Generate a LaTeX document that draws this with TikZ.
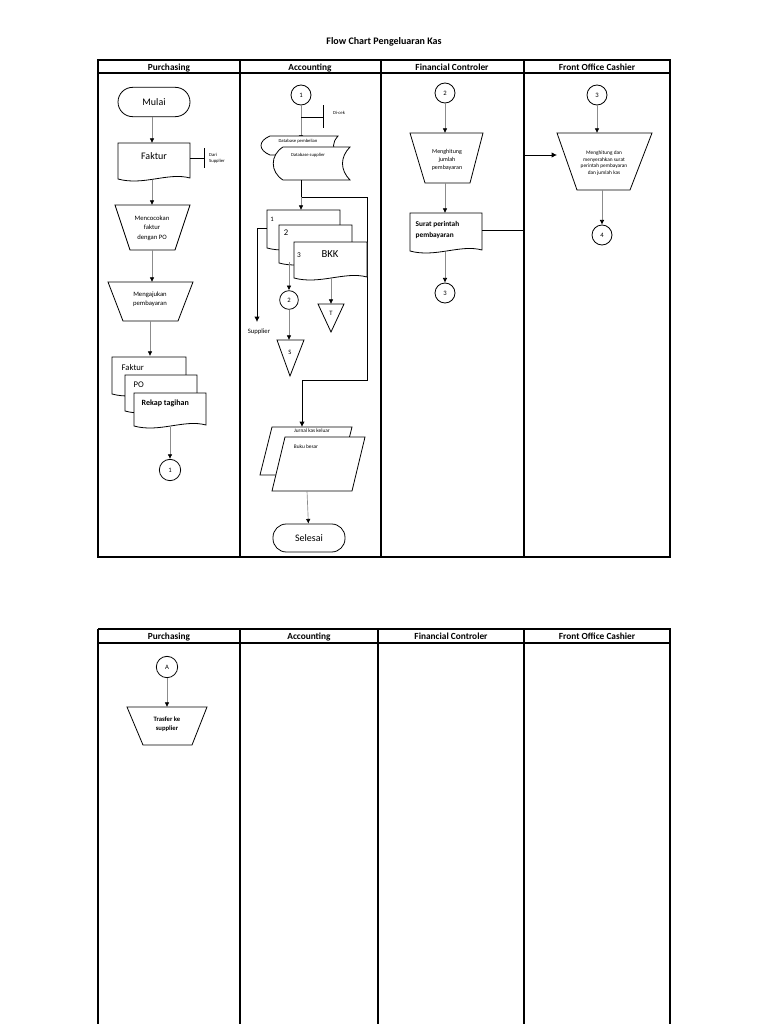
\documentclass[tikz,border=0pt]{standalone}
\usepackage{fontspec}
\setmainfont{Carlito}
\begin{document}
\begin{tikzpicture}[x=0.75pt,y=-0.75pt,
  ln/.style={draw=black!45,line width=0.5pt},
  ar/.style={ln,-{Latex[length=3.5pt,width=3.5pt,color=black]},draw=black!45},
  bl/.style={draw=black,line width=0.6pt},
  bar/.style={-{Latex[length=4pt,width=4pt]},draw=black,line width=0.6pt},
  sh/.style={draw=black,line width=0.6pt,fill=white},
  hd/.style={font=\bfseries\fontsize{7}{8}\selectfont,anchor=base},
  tiny/.style={font=\fontsize{3.5}{4.5}\selectfont,align=center},
  sm/.style={font=\fontsize{5}{7}\selectfont,align=center},
  con/.style={circle,draw,line width=0.6pt,minimum size=16pt,inner sep=0pt,font=\fontsize{5}{6}\selectfont}]
\usetikzlibrary{arrows.meta}
\useasboundingbox (0,0) rectangle (768,1024);
\newcommand\docsh[4]{\draw[sh] (#1,#2) -- (#3,#2) -- (#3,#4) .. controls ({#3-0.3*(#3-#1)},{#4-6}) and ({#1+0.35*(#3-#1)},{#4+8}) .. (#1,{#4+1}) -- cycle;}
\newcommand\trap[7]{\draw[sh] (#1,#3) -- (#2,#3) -- (#5,#6) -- (#4,#6) -- cycle;}
\node[font=\bfseries\fontsize{7.5}{9}\selectfont] (title) at (384,42) {Flow Chart Pengeluaran Kas};
% table 1
\draw[line width=0.8pt] (98,60) rectangle (670,557);
\draw[line width=0.8pt] (98,73) -- (670,73);
\foreach \x in {240,381,524} \draw[line width=0.8pt] (\x,60) -- (\x,557);
\node[hd] (h1) at (169,70) {Purchasing};
\node[hd] (h2) at (310,70) {Accounting};
\node[hd] (h3) at (452,70) {Financial Controler};
\node[hd] (h4) at (597,70) {Front Office Cashier};
% table 2
\draw[line width=0.8pt] (98,629) -- (670,629) -- (670,1024) (98,1024) -- (98,629);
\draw[line width=0.8pt] (98,643) -- (670,643);
\foreach \x in {240,378,524} \draw[line width=0.8pt] (\x,629) -- (\x,1024);
\node[hd] (k1) at (169,639.5) {Purchasing};
\node[hd] (k2) at (309,639.5) {Accounting};
\node[hd] (k3) at (451,639.5) {Financial Controler};
\node[hd] (k4) at (597,639.5) {Front Office Cashier};
% Purchasing
\node[draw,line width=0.6pt,rounded corners=11pt,minimum width=54pt,minimum height=22pt,font=\fontsize{7.5}{9}\selectfont] (mulai) at (154,102) {Mulai};
\docsh{118}{143}{190}{178}
\node[font=\fontsize{7.5}{9}\selectfont] (faktur) at (154,156) {Faktur};
\draw[ar] (152,117) -- (152,143);
\draw[bl] (190,158) -- (204,158) (204,148) -- (204,168);
\node[tiny,align=left] (dari) at (217,158) {Dari\\Supplier};
\draw[ar] (152,180) -- (152,205);
\trap{115}{190}{205}{130}{175}{250}{}
\node[sm] (cocok) at (152,228) {Mencocokan\\faktur\\dengan PO};
\draw[ar] (152,250) -- (152,282);
\trap{108}{193}{282}{123}{178}{321}{}
\node[sm] (aju) at (150,299) {Mengajukan\\pembayaran};
\draw[ar] (150,321) -- (150,356);
\docsh{112}{357}{186}{393}
\node[font=\fontsize{6.5}{8}\selectfont,anchor=west] (f2) at (117,368) {Faktur};
\docsh{125}{375}{197}{410}
\node[font=\fontsize{6.5}{8}\selectfont,anchor=west] (po) at (129,385) {PO};
\docsh{134}{393}{206}{425}
\node[font=\bfseries\fontsize{6}{8}\selectfont,anchor=west] (rekap) at (137,403) {Rekap tagihan};
\node[con] (c1a) at (170,470) {1};
\draw[ar] (170,427) -- (c1a);
% Accounting
\node[con,minimum size=15pt] (c1b) at (301,95) {1};
\draw[ar] (c1b) -- (301,140);
\draw[bl] (301,117) -- (323,117) (323,105) -- (323,128);
\node[tiny] (dicek) at (339,113) {Di-cek};
\draw[sh] (270,136) -- (338,136) .. controls (332,143) and (332,148) .. (338,155) -- (270,155) .. controls (258,150) and (258,141) .. (270,136) -- cycle;
\node[tiny] (dbp) at (298,141) {Database pembelian};
\draw[sh] (283,147) -- (350,147) .. controls (340,157) and (340,170) .. (350,180) -- (283,180) .. controls (270,172) and (270,155) .. (283,147) -- cycle;
\node[tiny] (dbs) at (308,155) {Database supplier};
\draw[bl] (301,180) -- (301,197) -- (367,197) -- (367,380) -- (302,380);
\draw[bar] (302,380) -- (302,427);
\draw[ar] (301,197) -- (301,210);
\docsh{267}{210}{340}{247}
\node[font=\fontsize{5}{6}\selectfont] (d1) at (272,219) {1};
\docsh{279}{225}{352}{262}
\node[font=\fontsize{6.5}{8}\selectfont] (d2) at (286,233) {2};
\docsh{294}{242}{367}{277}
\node[font=\fontsize{5.5}{7}\selectfont] (d3) at (299,255) {3};
\node[font=\fontsize{8}{9}\selectfont] (bkk) at (330,254) {BKK};
\draw[bl] (267,228) -- (257,228);
\draw[bar] (257,228) -- (257,322);
\node[font=\fontsize{5}{6}\selectfont] (sup) at (259,332) {Supplier};
\node[con,minimum size=14pt] (c2b) at (289,300) {2};
\draw[ar] (289,262) -- (c2b);
\draw[sh] (277,340) -- (304,340) -- (290,376) -- cycle;
\node[font=\fontsize{5}{6}\selectfont] (s) at (290,352) {S};
\draw[ar] (c2b) -- (289,340);
\draw[sh] (318,304) -- (344,304) -- (331,332) -- cycle;
\node[font=\fontsize{5}{6}\selectfont] (t) at (331,313) {T};
\draw[ar] (331,278) -- (331,304);
\draw[sh] (272,427) -- (352,427) -- (340,475) -- (260,475) -- cycle;
\node[tiny,font=\fontsize{4}{5}\selectfont] (jkk) at (312,431) {Jurnal kas keluar};
\draw[sh] (285,437) -- (365,437) -- (352,491) -- (272,491) -- cycle;
\node[tiny,font=\fontsize{4}{5}\selectfont] (bb) at (306,447) {Buku besar};
\node[draw,line width=0.6pt,rounded corners=10pt,minimum width=54pt,minimum height=21pt,font=\fontsize{7.5}{9}\selectfont] (selesai) at (309,538) {Selesai};
\draw[ar] (307,491) -- (selesai);
% Financial controler
\node[con,minimum size=15pt] (c2c) at (445,93) {2};
\draw[ar] (c2c) -- (445,133);
\trap{410}{483}{133}{425}{470}{183}{}
\node[tiny,font=\fontsize{4.5}{6}\selectfont] (hit) at (447,160) {Menghitung\\jumlah\\pembayaran};
\draw[ar] (445,183) -- (445,213);
\docsh{410}{213}{482}{250}
\node[font=\bfseries\fontsize{5.5}{8}\selectfont,align=left,anchor=north west] (spp) at (411,217) {Surat perintah\\pembayaran};
\draw[bl] (482,230) -- (523,230) -- (523,155);
\draw[bar] (523,155) -- (557,155);
\node[con,minimum size=15pt] (c3c) at (445,293) {3};
\draw[ar] (445,252) -- (c3c);
% FOC
\node[con,minimum size=15pt] (c3d) at (597,95) {3};
\draw[ar] (c3d) -- (597,133);
\trap{557}{652}{133}{577}{630}{190}{}
\node[tiny,font=\fontsize{4}{5}\selectfont] (foc) at (604,163) {Menghitung dan\\menyerahkan surat\\perintah pembayaran\\dan jumlah kas};
\node[con,minimum size=15pt] (c4) at (602,235) {4};
\draw[ar] (602,190) -- (c4);
% table 2 content
\node[con,minimum size=16pt] (cA) at (167,667) {A};
\trap{127}{207}{707}{143}{192}{745}{}
\draw[ar] (cA) -- (167,707);
\node[font=\bfseries\fontsize{5}{7}\selectfont,align=center] (tr) at (167,724) {Trasfer ke\\supplier};
\end{tikzpicture}
\end{document}
